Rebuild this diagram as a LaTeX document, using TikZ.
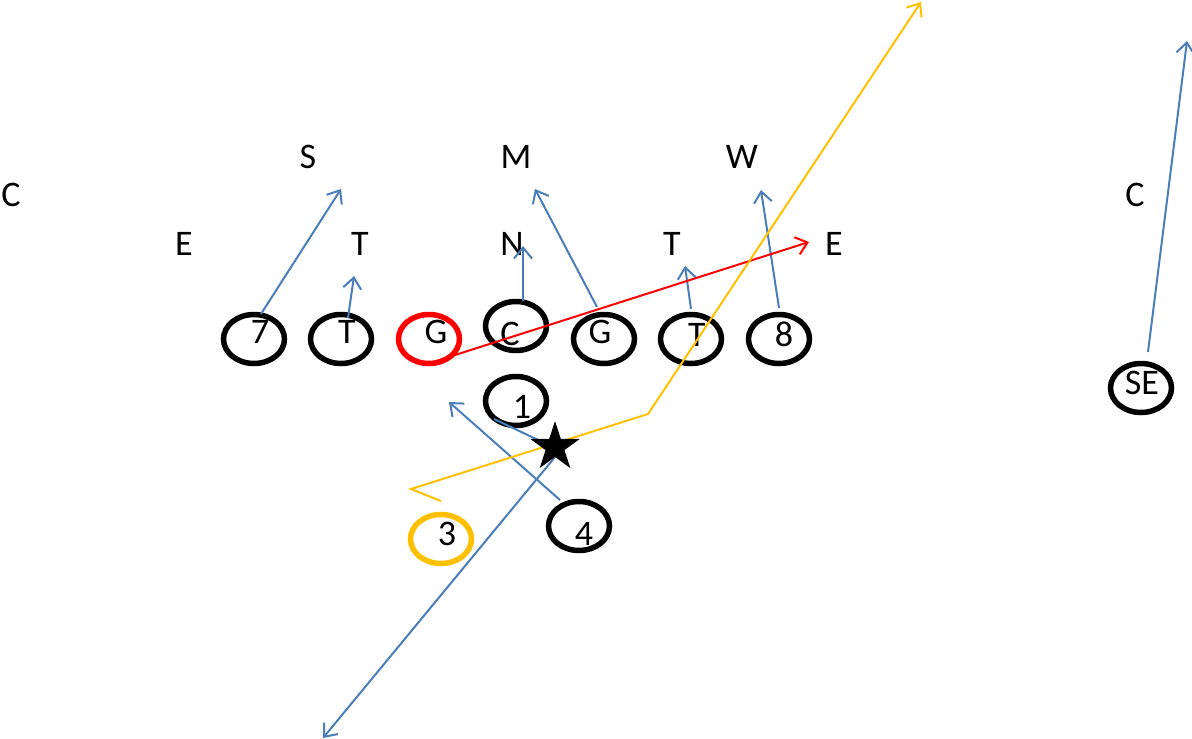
\documentclass[tikz,border=0pt]{standalone}
\usepackage{fontspec}
\setmainfont{Carlito}
\usetikzlibrary{shapes.geometric,arrows.meta}
\definecolor{pblue}{HTML}{4A7EBB}
\definecolor{pgold}{HTML}{FFC000}
\tikzset{
  x=1pt,y=-1pt,
  player/.style={draw=black,line width=5.5pt,ellipse,minimum width=61pt,minimum height=49pt,inner sep=0pt,outer sep=0pt},
  lbl/.style={inner sep=0pt,outer sep=0pt,font=\fontsize{36}{36}\selectfont,text=black},
  opentip/.style={-{Straight Barb[length=11pt,width=18pt,line width=2pt]}},
  route/.style={draw=pblue,line width=2pt,opentip},
  redroute/.style={draw=red,line width=2pt,opentip},
  goldroute/.style={draw=pgold,line width=2pt,opentip},
}
\begin{document}
\begin{tikzpicture}
\useasboundingbox (0,0) rectangle (1192,739);
% players
\node[player] (p7) at (254,339) {};
\node[player] (pT1) at (341,339) {};
\node[player,draw=red] (pG1) at (429,339) {};
\node[player] (pC) at (516,326) {};
\node[player] (pG2) at (604,339) {};
\node[player] (pT2) at (691,339) {};
\node[player] (p8) at (779,339) {};
\node[player] (pSE) at (1141,388) {};
\node[player] (p1) at (516,401) {};
\node[player,draw=pgold] (p3) at (441,539) {};
\node[player] (p4) at (579,526) {};
% labels
\node[lbl] at (260,332) {7};
\node[lbl] at (347,332) {T};
\node[lbl] at (436,332) {G};
\node[lbl] at (510,334) {C};
\node[lbl] at (600,332) {G};
\node[lbl] at (697,335) {T};
\node[lbl] at (784,334) {8};
\node[lbl] at (1142,383) {SE};
\node[lbl] at (522,407) {1};
\node[lbl] at (447,534) {3};
\node[lbl] at (584,534) {4};
\node[lbl] (dS) at (308,157) {S};
\node[lbl] (dM) at (516,157) {M};
\node[lbl] (dW) at (742,157) {W};
\node[lbl] (dC1) at (11,195) {C};
\node[lbl] (dC2) at (1135,195) {C};
\node[lbl] (dE1) at (184,244) {E};
\node[lbl] (dT1) at (360,244) {T};
\node[lbl] (dN) at (512,244) {N};
\node[lbl] (dT2) at (672,244) {T};
\node[lbl] (dE2) at (834,244) {E};
% free ends
\coordinate (a7s) at (261,314); \coordinate (a7e) at (341,189);
\coordinate (aTs) at (348,318); \coordinate (aTe) at (354,276);
\coordinate (aCs) at (523,301); \coordinate (aCe) at (523,246);
\coordinate (aGs) at (597,307); \coordinate (aGe) at (535,189);
\coordinate (bTs) at (691,309); \coordinate (bTe) at (685,266);
\coordinate (a8s) at (779,308); \coordinate (a8e) at (761,190);
\coordinate (aSs) at (1148,352); \coordinate (aSe) at (1187,41);
\coordinate (a4s) at (560,500); \coordinate (a4e) at (449,402);
\coordinate (a1s) at (494,419); \coordinate (a1e) at (555,448);
\coordinate (dbT) at (555,457); \coordinate (dbB) at (323,738);
\coordinate (g0) at (441,501); \coordinate (g1) at (411,489); \coordinate (g2) at (648,414); \coordinate (g3) at (921,2);
\coordinate (r0) at (430,363); \coordinate (r1) at (809,242);
% routes
\draw[route] (a7s) -- (a7e);
\draw[route] (aTs) -- (aTe);
\draw[route] (aCs) -- (aCe);
\draw[route] (aGs) -- (aGe);
\draw[route] (bTs) -- (bTe);
\draw[route] (a8s) -- (a8e);
\draw[route] (aSs) -- (aSe);
\draw[route] (a4s) -- (a4e);
\draw[draw=pblue,line width=2pt] (a1s) -- (a1e);
\draw[route] (dbT) -- (dbB);
\draw[redroute] (r0) -- (r1);
\draw[goldroute] (g0) -- (g1) -- (g2) -- (g3);
\node[star,star points=5,star point ratio=2.618,fill=black,draw=none,minimum size=52pt,inner sep=0pt] (star) at (555,447) {};
\end{tikzpicture}
\end{document}
